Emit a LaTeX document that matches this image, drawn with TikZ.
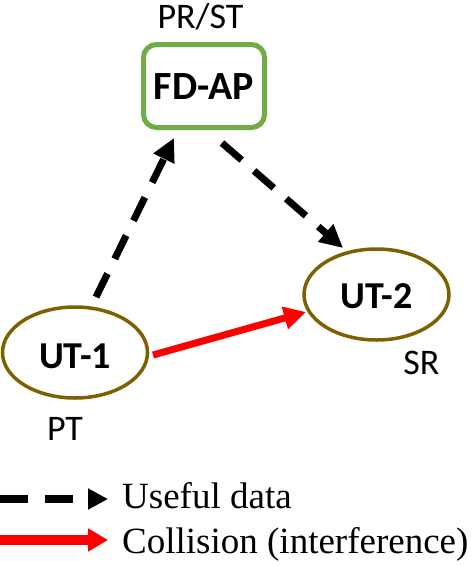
\documentclass[tikz,border=0pt]{standalone}
\usepackage{fontspec}
\setmainfont{Liberation Serif}
\newfontfamily\calfnt{Carlito}
\usetikzlibrary{arrows.meta,shapes.geometric}
\definecolor{apgreen}{HTML}{70AD47}
\definecolor{utbrown}{HTML}{7F6000}
\definecolor{colred}{HTML}{FF0000}
\begin{document}
\begin{tikzpicture}[x=1pt,y=-1pt,
  apbox/.style={draw=apgreen,line width=5pt,rounded corners=13pt,minimum width=121pt,minimum height=83pt,inner sep=0pt,font=\calfnt\bfseries\fontsize{40}{42}\selectfont,text depth=0pt},
  utell/.style={draw=utbrown,line width=3.5pt,ellipse,minimum width=145pt,minimum height=91pt,inner sep=0pt,font=\calfnt\bfseries\fontsize{38}{40}\selectfont,text depth=0pt},
  lab/.style={font=\calfnt\fontsize{36}{38}\selectfont,inner sep=0pt,anchor=base},
  useful/.style={line width=7pt,dash pattern=on 26pt off 16.5pt,-{Triangle[length=23pt,width=22pt]}},
  collide/.style={line width=7pt,draw=colred,-{Triangle[length=22pt,width=22pt]}},
  legtext/.style={font=\fontsize{37}{39}\selectfont,anchor=base west,inner sep=0pt}
]
\useasboundingbox (0,0) rectangle (473,566);
\node[apbox,text height=26pt] (ap) at (204,86) {FD-AP};
\node[lab] (prst) at (200.5,28) {PR/ST};
\node[utell,text height=31pt] (ut1) at (75,352.5) {UT-1};
\node[utell,text height=27pt] (ut2) at (376.5,294.5) {UT-2};
\node[lab] (sr) at (421.5,374) {SR};
\node[lab] (pt) at (65,440) {PT};
\coordinate (a1s) at (96,297);
\coordinate (a1e) at (174,138);
\coordinate (a2s) at (222,143);
\coordinate (a2e) at (343,248);
\coordinate (rs) at (153,355);
\coordinate (re) at (306,312);
\draw[useful] (a1s) -- (a1e);
\draw[useful] (a2s) -- (a2e);
\draw[collide] (rs) -- (re);
\coordinate (l1s) at (0,499);
\coordinate (l1e) at (108,499);
\coordinate (l2s) at (0,540);
\coordinate (l2e) at (108,540);
\draw[line width=8pt,dash pattern=on 28pt off 17pt,-{Triangle[length=20pt,width=20pt]}] (l1s) -- (l1e);
\draw[line width=10pt,draw=colred,-{Triangle[length=20pt,width=22pt]}] (l2s) -- (l2e);
\node[legtext] (t1) at (122,508) {Useful data};
\node[legtext] (t2) at (122,553) {Collision (interference)};
\end{tikzpicture}
\end{document}
